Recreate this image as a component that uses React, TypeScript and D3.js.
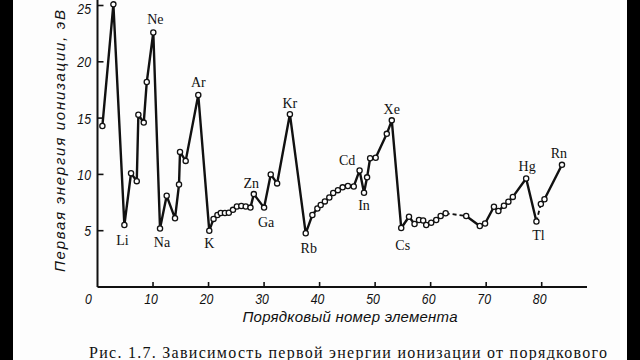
import React from "react";
import * as d3 from "d3";

// atomic-number positions as drawn in the figure
const atomicNumber = [
  0.88, 2.86, 4.84, 6.04, 7.07, 7.36, 8.33, 8.87, 10.05, 11.26, 12.46, 13.96, 14.68, 14.86, 15.88,
  18.15, 20.13, 20.9, 21.6, 22.2, 22.95, 23.65, 24.4, 25.1, 25.9, 26.7, 27.55, 28.15, 30.0, 31.2,
  32.35, 34.65, 37.5, 38.7, 39.6, 40.2, 40.95, 41.75, 42.45, 43.3, 44.15, 45.1, 46.15, 47.2, 48.0,
  48.55, 49.1, 50.1, 52.1, 53.0, 54.7, 56.1, 57.1, 57.9, 58.65, 59.2, 60.1, 61.0, 61.8, 62.7,
  66.4, 68.85, 69.8, 71.4, 72.2, 73.2, 74.0, 74.8, 77.2, 79.05, 79.85, 80.5, 83.65,
];
// first ionization energy, eV
const ionizationEnergy = [
  14.3, 25.1, 5.5, 10.1, 9.4, 15.3, 14.6, 18.2, 22.6, 5.2, 8.1, 6.1, 9.1, 12.0, 11.2,
  17.05, 5.0, 6.05, 6.4, 6.57, 6.57, 6.6, 6.85, 7.15, 7.2, 7.15, 7.05, 8.25, 7.05, 10.0,
  9.2, 15.35, 4.77, 6.4, 6.97, 7.28, 7.6, 7.95, 8.35, 8.6, 8.85, 8.97, 8.93, 10.35, 8.37,
  9.74, 11.43, 11.48, 13.6, 14.8, 5.24, 6.24, 5.6, 5.95, 5.9, 5.5, 5.7, 5.95, 6.3, 6.55,
  6.3, 5.42, 5.64, 7.13, 6.75, 7.21, 7.58, 8.0, 9.64, 5.82, 7.37, 7.79, 10.85,
];
// segments (start index) drawn dashed
const dashedSegments = [59, 69];

const labelNames = ["Ne", "Ar", "Li", "Na", "K", "Zn", "Ga", "Kr", "Rb", "Cd", "In", "Xe", "Cs", "Hg", "Tl", "Rn"];
const labelPoint = [8, 15, 2, 9, 16, 27, 28, 31, 32, 43, 44, 49, 50, 68, 69, 72];

const yTicks = [5, 10, 15, 20, 25];
const xTicks = [0, 10, 20, 30, 40, 50, 60, 70, 80];

const yTitle = "Первая энергия ионизации, эВ";
const xTitle = "Порядковый номер элемента";
const caption = "Рис. 1.7. Зависимость первой энергии ионизации от порядкового";

// label placement offsets (px) relative to their point: [dx, dy to baseline]
const labelOffsets: [number, number][] = [
  [2, -9], [0, -8], [-2, 20], [2, 19], [0, 17], [-2.5, -6], [2, 19], [0, -6], [3, 20],
  [-12.5, -5.5], [0, 17.5], [0, -6], [1.5, 22], [1, -7.5], [2, 18.5], [-3, -7],
];

export default function App() {
  const W = 640, H = 360;
  const x = d3.scaleLinear().domain([0, 80]).range([97.5, 541.7]);
  const y = d3.scaleLinear().domain([0, 25]).range([287, 5.5]);
  const pts = atomicNumber.map((z, i) => [x(z), y(ionizationEnergy[i])] as [number, number]);

  const segs = [];
  for (let i = 0; i < pts.length - 1; i++) {
    segs.push({ a: pts[i], b: pts[i + 1], dashed: dashedSegments.includes(i) });
  }
  const runs: [number, number][][] = [];
  let cur: [number, number][] = [pts[0]];
  for (let i = 0; i < pts.length - 1; i++) {
    if (dashedSegments.includes(i)) {
      runs.push(cur);
      cur = [pts[i + 1]];
    } else cur.push(pts[i + 1]);
  }
  runs.push(cur);
  const line = d3.line();

  const tickFont = "'Liberation Sans','Arimo',sans-serif";
  const titleFont = "'Liberation Sans','DejaVu Sans',sans-serif";
  const serif = "'Liberation Serif','DejaVu Serif',serif";

  return (
    <svg width={W} height={H} style={{ position: "fixed", left: 0, top: 0, background: "#fff" }}>
      <rect x={0} y={0} width={W} height={H} fill="#fdfdfd" />
      {/* axes */}
      <line x1={x(0)} y1={0} x2={x(0)} y2={y(0)} stroke="#111" strokeWidth={2} />
      <line x1={x(0)} y1={y(0)} x2={587} y2={y(0)} stroke="#111" strokeWidth={2} />
      {yTicks.map((t) => (
        <g key={"yt" + t}>
          <line x1={x(0)} x2={x(0) + 6} y1={y(t)} y2={y(t)} stroke="#111" strokeWidth={1.6} />
          <text
            transform={`translate(91,${Math.max(y(t) + 5.5, 13.5)}) scale(0.82,1)`}
            textAnchor="end"
            fontFamily={tickFont}
            fontStyle="italic"
            fontSize={15}
            fill="#111"
          >
            {t}
          </text>
        </g>
      ))}
      {xTicks.map((t) => (
        <g key={"xt" + t}>
          {t > 0 && <line x1={x(t)} x2={x(t)} y1={y(0)} y2={y(0) - 5} stroke="#111" strokeWidth={1.6} />}
          <text
            transform={`translate(${t === 0 ? x(t) - 9 : x(t) - 2},304) scale(0.82,1)`}
            textAnchor="middle"
            fontFamily={tickFont}
            fontStyle="italic"
            fontSize={15}
            fill="#111"
          >
            {t}
          </text>
        </g>
      ))}
      <text
        transform="translate(65,141) rotate(-90)"
        textAnchor="middle"
        fontFamily={titleFont}
        fontStyle="italic"
        fontSize={15}
        textLength={262}
        lengthAdjust="spacing"
        fill="#111"
      >
        {yTitle}
      </text>
      <text x={350} y={322} textAnchor="middle" fontFamily={titleFont} fontStyle="italic" fontSize={15} textLength={215} lengthAdjust="spacing" fill="#111">
        {xTitle}
      </text>
      <text x={348} y={358} textAnchor="middle" fontFamily={serif} fontSize={16} textLength={518} lengthAdjust="spacing" fill="#111">
        {caption}
      </text>

      {/* data line */}
      {runs.map((r, i) => (
        <path key={"r" + i} d={line(r) || ""} fill="none" stroke="#111" strokeWidth={2.4} strokeLinejoin="round" />
      ))}
      {segs
        .filter((s) => s.dashed)
        .map((s, i) => (
          <line key={"d" + i} x1={s.a[0]} y1={s.a[1]} x2={s.b[0]} y2={s.b[1]} stroke="#111" strokeWidth={1.8} strokeDasharray="4,3" />
        ))}
      {pts.map((p, i) => (
        <circle key={"c" + i} cx={p[0]} cy={p[1]} r={2.6} fill="#fff" stroke="#111" strokeWidth={1.3} />
      ))}
      {labelNames.map((n, i) => {
        const p = pts[labelPoint[i]];
        const [dx, dy] = labelOffsets[i];
        return (
          <text key={n} x={p[0] + dx} y={p[1] + dy} textAnchor="middle" fontFamily={serif} fontSize={14} fill="#111">
            {n}
          </text>
        );
      })}

      {/* scan borders */}
      <rect x={0} y={0} width={13} height={H} fill="#000" />
      <rect x={627} y={0} width={13} height={H} fill="#000" />
    </svg>
  );
}
